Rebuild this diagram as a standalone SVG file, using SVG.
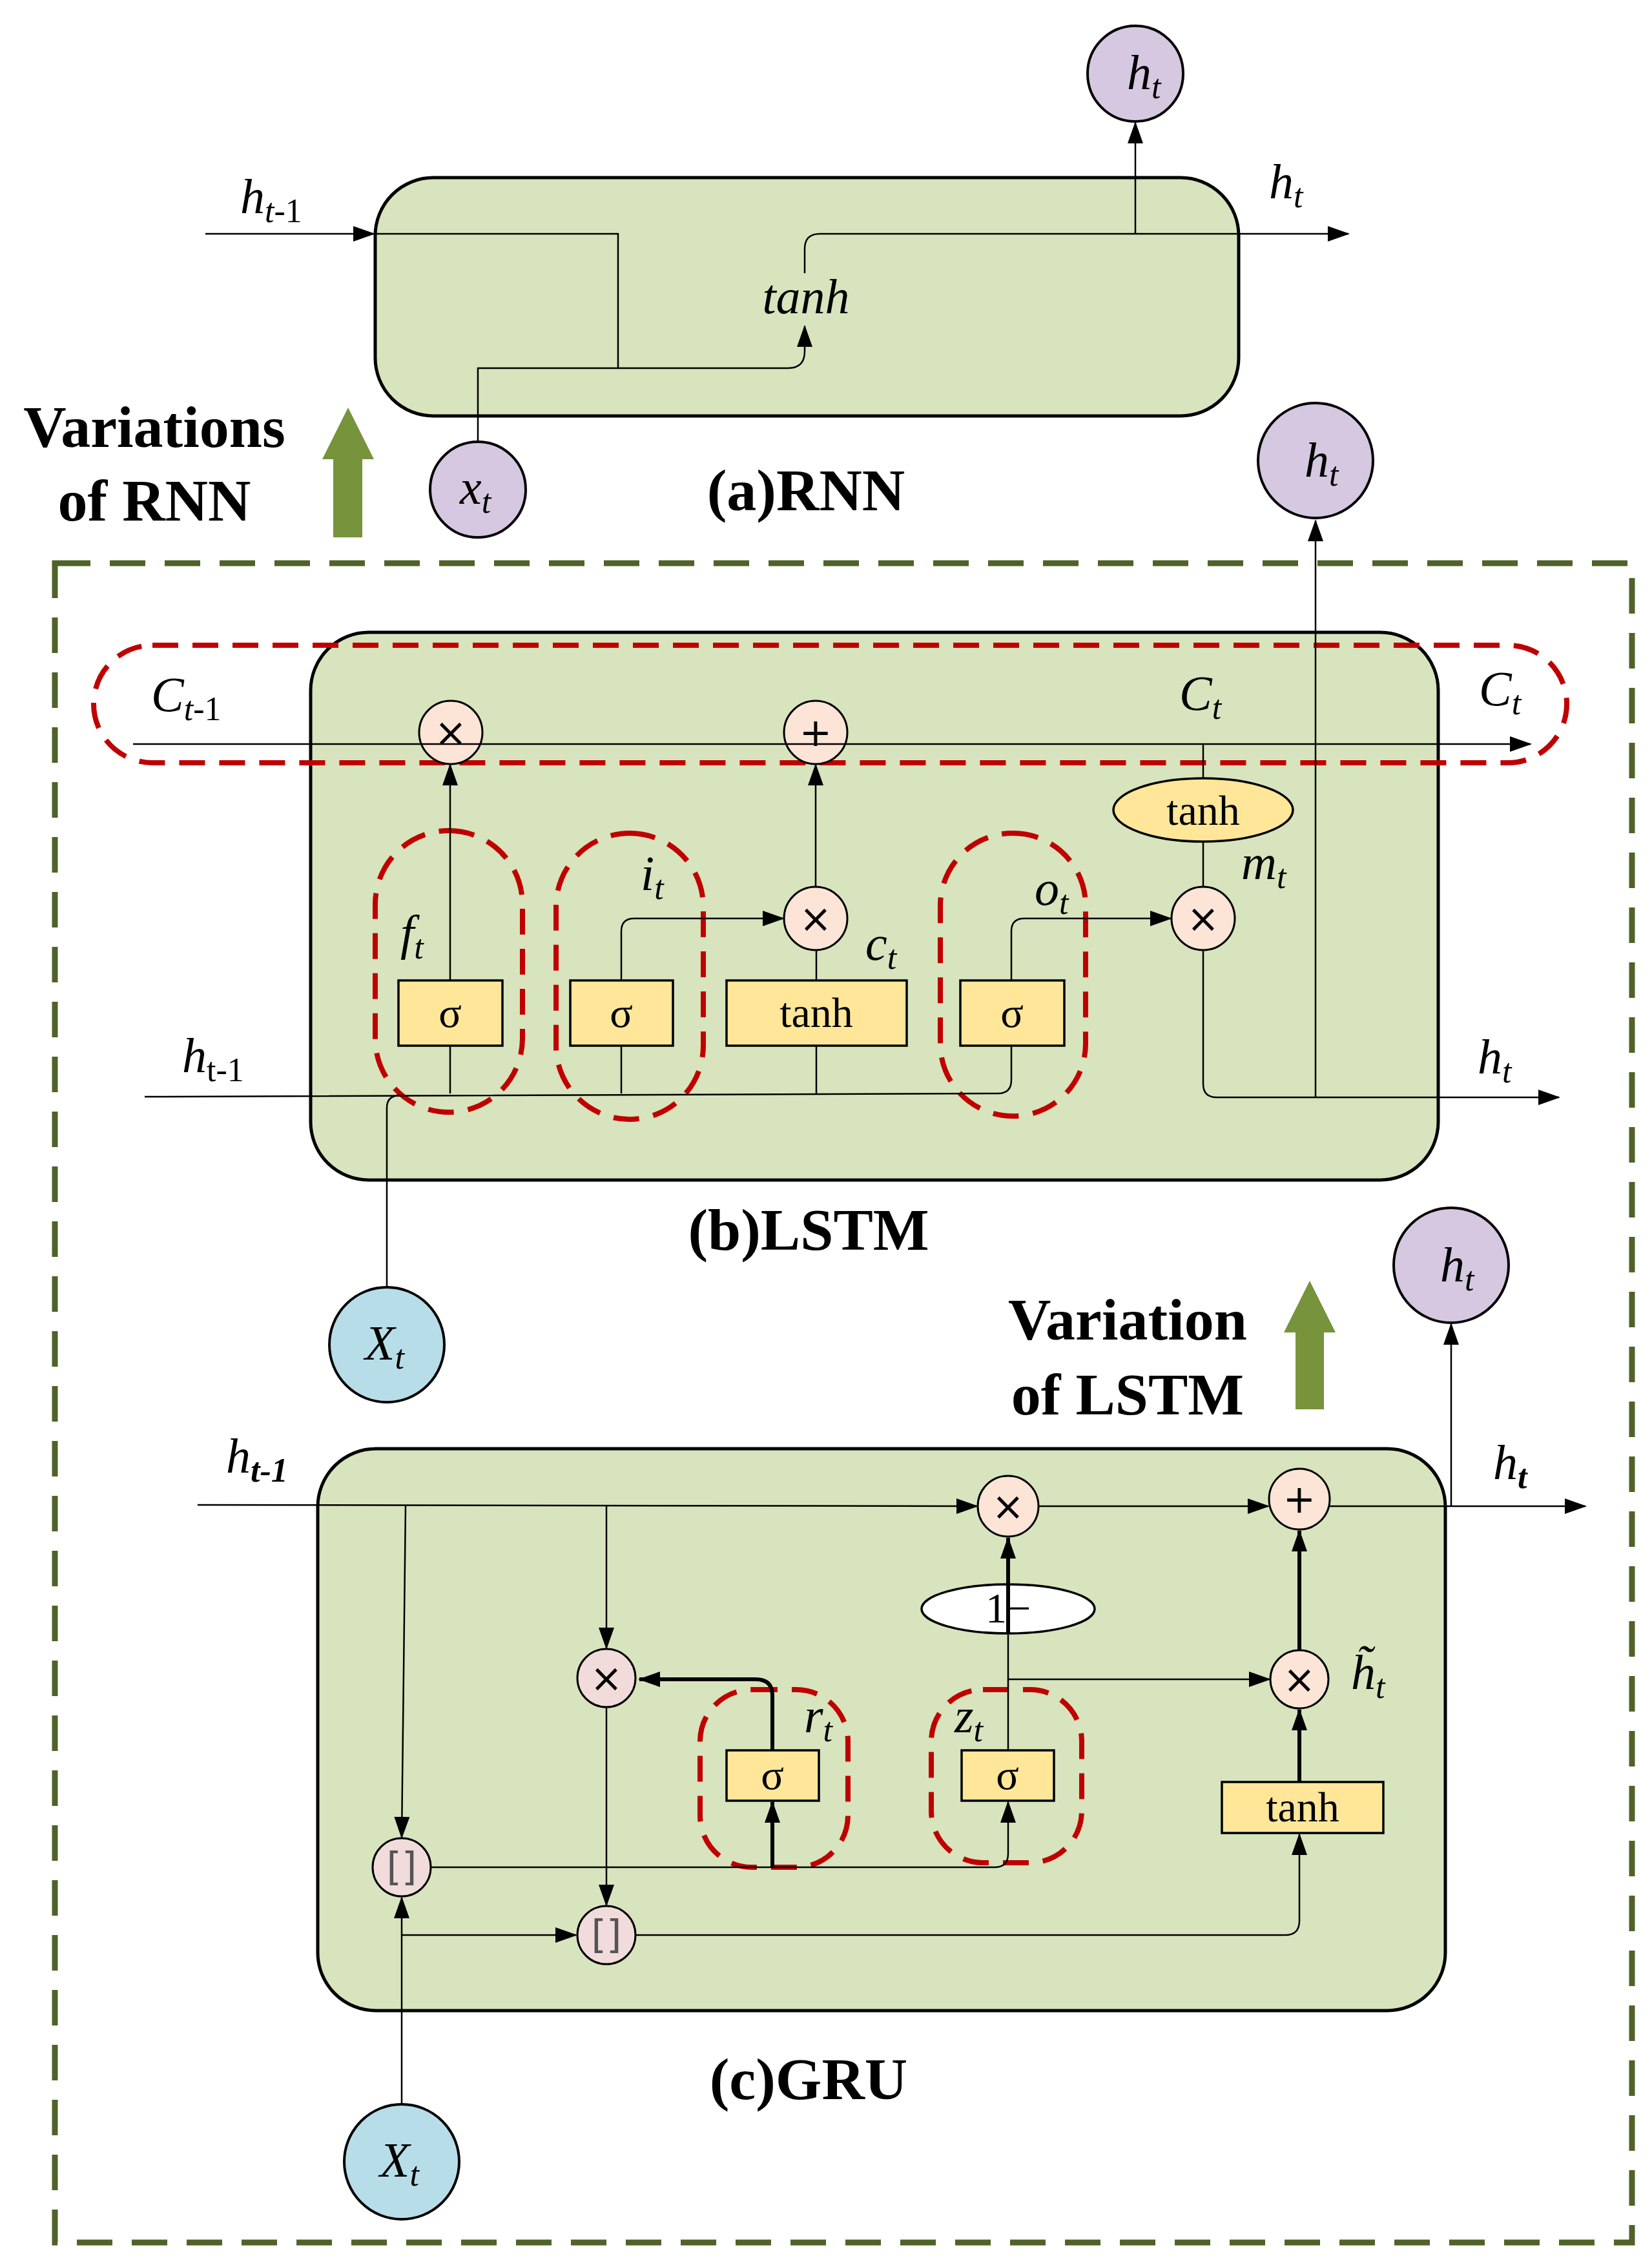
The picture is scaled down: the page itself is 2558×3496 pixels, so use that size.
<svg xmlns="http://www.w3.org/2000/svg" width="2558" height="3496" viewBox="0 0 2558 3496">
<style>
.l{fill:none;stroke:#000;stroke-width:2.5}
.k{fill:none;stroke:#000;stroke-width:6}
.box{fill:#D7E4BD;stroke:#000;stroke-width:5}
.pc{fill:#D5C8E0;stroke:#000;stroke-width:4}
.bc{fill:#B7DDE8;stroke:#000;stroke-width:4}
.op{fill:#FCE4D6;stroke:#000;stroke-width:3}
.pk{fill:#F2DCDB;stroke:#000;stroke-width:3}
.yb{fill:#FFE699;stroke:#000;stroke-width:3.5}
.rd{fill:none;stroke:#C00000;stroke-width:8;stroke-dasharray:40 22}
.gd{fill:none;stroke:#4F6228;stroke-width:9;stroke-dasharray:55 30}
.m{font-family:"Liberation Serif",serif;font-style:italic;font-size:76px}
.s{font-size:52px}
.u{font-family:"Liberation Serif",serif;font-size:66px}
.b{font-family:"Liberation Serif",serif;font-weight:bold;font-size:92px}
.o{font-family:"DejaVu Sans",sans-serif;font-size:60px;text-anchor:middle}
.ga{fill:#77933C}
</style>
<defs>
<marker id="a" markerUnits="userSpaceOnUse" markerWidth="34" markerHeight="24" refX="32" refY="12" orient="auto"><path d="M0,0 L34,12 L0,24 Z"/></marker>
</defs>

<g id="rnn">
<rect class="box" x="581" y="275" width="1337" height="369" rx="90"/>
<text class="m" x="1248" y="485" text-anchor="middle">tanh</text>
</g>
<g id="rnn-ht"><circle class="pc" cx="1758" cy="114" r="74"/><text class="m" x="1745" y="138">h<tspan class="s" dy="14">t</tspan></text></g>
<g id="rnn-xt"><circle class="bc" cx="740" cy="758" r="74" style="fill:#D5C8E0"/><text class="m" x="712" y="780">x<tspan class="s" dy="14">t</tspan></text></g>
<text class="m" x="372" y="330">h<tspan class="s" dy="14">t</tspan><tspan class="s" style="font-style:normal">-1</tspan></text>
<text class="m" x="1965" y="307">h<tspan class="s" dy="14">t</tspan></text>
<text class="b" x="1248" y="790" text-anchor="middle">(a)RNN</text>
<text class="b" x="239" y="692" text-anchor="middle">Variations</text>
<text class="b" x="239" y="806" text-anchor="middle">of RNN</text>
<path class="ga" d="M516,711 H499 L539,631 L579,711 H561 V832 H516 Z"/>

<rect class="gd" x="85" y="872" width="2442" height="2600"/>

<g id="lstm">
<rect class="box" x="481" y="979" width="1746" height="848" rx="90"/>
<rect class="rd" x="145" y="999" width="2281" height="182" rx="91"/>
<rect class="rd" x="581" y="1286" width="228" height="436" rx="114"/>
<rect class="rd" x="861" y="1290" width="228" height="443" rx="114"/>
<rect class="rd" x="1456" y="1290" width="225" height="438" rx="112"/>
<rect class="yb" x="617" y="1518" width="161" height="101"/><text class="u" x="697" y="1590" text-anchor="middle">σ</text>
<rect class="yb" x="883" y="1518" width="159" height="101"/><text class="u" x="962" y="1590" text-anchor="middle">σ</text>
<rect class="yb" x="1125" y="1518" width="279" height="101"/><text class="u" x="1264" y="1590" text-anchor="middle">tanh</text>
<rect class="yb" x="1487" y="1518" width="161" height="101"/><text class="u" x="1567" y="1590" text-anchor="middle">σ</text>
<ellipse class="yb" cx="1863" cy="1254" rx="139" ry="49"/><text class="u" x="1863" y="1277" text-anchor="middle">tanh</text>
</g>
<g id="lstm-ops">
<circle class="op" cx="698" cy="1134" r="49"/><text class="o" x="698" y="1155">×</text>
<circle class="op" cx="1263" cy="1134" r="49"/><text class="o" x="1263" y="1155">+</text>
<circle class="op" cx="1263" cy="1422" r="49"/><text class="o" x="1263" y="1443">×</text>
<circle class="op" cx="1863" cy="1422" r="49"/><text class="o" x="1863" y="1443">×</text>
</g>
<g id="lstm-labels">
<text class="m" x="234" y="1101">C<tspan class="s" dy="14">t</tspan><tspan class="s" style="font-style:normal">-1</tspan></text>
<text class="m" x="1826" y="1099">C<tspan class="s" dy="14">t</tspan></text>
<text class="m" x="2290" y="1092">C<tspan class="s" dy="14">t</tspan></text>
<text class="m" x="1922" y="1361">m<tspan class="s" dy="14">t</tspan></text>
<text class="m" x="620" y="1470">f<tspan class="s" dy="14">t</tspan></text>
<text class="m" x="992" y="1378">i<tspan class="s" dy="14">t</tspan></text>
<text class="m" x="1340" y="1486">c<tspan class="s" dy="14">t</tspan></text>
<text class="m" x="1602" y="1401">o<tspan class="s" dy="14">t</tspan></text>
<text class="m" x="282" y="1660">h<tspan class="s" dy="14" style="font-style:normal">t-1</tspan></text>
<text class="m" x="2288" y="1662">h<tspan class="s" dy="14">t</tspan></text>
<text class="b" x="1252" y="1935" text-anchor="middle">(b)LSTM</text>
</g>
<g id="lstm-ht"><circle class="pc" cx="2037" cy="713" r="89"/><text class="m" x="2020" y="738">h<tspan class="s" dy="14">t</tspan></text></g>
<g id="lstm-xt"><circle class="bc" cx="599" cy="2082" r="89"/><text class="m" x="565" y="2105">X<tspan class="s" dy="14">t</tspan></text></g>

<text class="b" x="1746" y="2074" text-anchor="middle">Variation</text>
<text class="b" x="1746" y="2190" text-anchor="middle">of LSTM</text>
<path class="ga" d="M2006,2063 H1988 L2028,1983 L2068,2063 H2050 V2182 H2006 Z"/>

<g id="gru">
<rect class="box" x="492" y="2243" width="1746" height="870" rx="90"/>
<rect class="rd" x="1084" y="2616" width="229" height="275" rx="80"/>
<rect class="rd" x="1442" y="2616" width="233" height="268" rx="80"/>
<rect class="yb" x="1125" y="2710" width="143" height="78"/><text class="u" x="1196" y="2770" text-anchor="middle">σ</text>
<rect class="yb" x="1489" y="2710" width="143" height="78"/><text class="u" x="1560" y="2770" text-anchor="middle">σ</text>
<rect class="yb" x="1892" y="2759" width="250" height="79"/><text class="u" x="2017" y="2820" text-anchor="middle">tanh</text>
<ellipse cx="1561" cy="2491" rx="134" ry="38" fill="#fff" stroke="#000" stroke-width="3.5"/><text class="u" x="1561" y="2512" text-anchor="middle">1−</text>
</g>
<g id="gru-ops">
<circle class="op" cx="1561" cy="2332" r="47"/><text class="o" x="1561" y="2353">×</text>
<circle class="op" cx="2012" cy="2321" r="47"/><text class="o" x="2012" y="2342">+</text>
<circle class="op" cx="2012" cy="2600" r="45"/><text class="o" x="2012" y="2621">×</text>
<circle class="pk" cx="939" cy="2598" r="45"/><text class="o" x="939" y="2619">×</text>
<circle class="pk" cx="622" cy="2891" r="45"/><text class="o" x="622" y="2911" fill="#555">[]</text>
<circle class="pk" cx="939" cy="2996" r="45"/><text class="o" x="939" y="3016" fill="#555">[]</text>
</g>
<g id="gru-labels">
<text class="m" x="350" y="2280">h<tspan class="s" dy="14" style="font-weight:bold">t-1</tspan></text>
<text class="m" x="2312" y="2290">h<tspan class="s" dy="14" style="font-weight:bold">t</tspan></text>
<text class="m" x="1245" y="2682">r<tspan class="s" dy="14">t</tspan></text>
<text class="m" x="1478" y="2682">z<tspan class="s" dy="14">t</tspan></text>
<text class="m" x="2092" y="2615">h̃<tspan class="s" dy="14">t</tspan></text>
<text class="b" x="1252" y="3250" text-anchor="middle">(c)GRU</text>
</g>
<g id="gru-ht"><circle class="pc" cx="2247" cy="1959" r="89"/><text class="m" x="2230" y="1984">h<tspan class="s" dy="14">t</tspan></text></g>
<g id="gru-xt"><circle class="bc" cx="622" cy="3347" r="89"/><text class="m" x="588" y="3370">X<tspan class="s" dy="14">t</tspan></text></g>

<g id="connectors">
<!-- RNN -->
<path class="l" d="M318,362 H579" marker-end="url(#a)"/>
<path class="l" d="M581,362 H957 V570"/>
<path class="l" d="M740,684 V570 H1220 Q1246,570 1246,544 V505" marker-end="url(#a)"/>
<path class="l" d="M1246,423 V385 Q1246,362 1270,362 H2088" marker-end="url(#a)"/>
<path class="l" d="M1758,362 V190" marker-end="url(#a)"/>
<!-- LSTM -->
<path class="l" d="M206,1152 H2370" marker-end="url(#a)"/>
<path class="l" d="M1863,1152 V1205"/>
<path class="l" d="M1863,1303 V1373"/>
<path class="l" d="M224,1698 L1545,1693 Q1566,1693 1566,1672 V1619"/>
<path class="l" d="M697,1619 V1693 M962,1619 V1693 M1264,1619 V1693"/>
<path class="l" d="M599,1993 V1715 Q599,1696 620,1696"/>
<path class="l" d="M697,1518 V1184" marker-end="url(#a)"/>
<path class="l" d="M962,1518 V1442 Q962,1422 982,1422 H1213" marker-end="url(#a)"/>
<path class="l" d="M1264,1518 V1471"/>
<path class="l" d="M1263,1373 V1184" marker-end="url(#a)"/>
<path class="l" d="M1566,1518 V1442 Q1566,1422 1586,1422 H1813" marker-end="url(#a)"/>
<path class="l" d="M1863,1471 V1678 Q1863,1699 1884,1699 H2414" marker-end="url(#a)"/>
<path class="l" d="M2037,1699 V806" marker-end="url(#a)"/>
<!-- GRU -->
<path class="l" d="M306,2330 L1513,2332" marker-end="url(#a)"/>
<path class="l" d="M1608,2332 H1964" marker-end="url(#a)"/>
<path class="l" d="M2059,2332 H2455" marker-end="url(#a)"/>
<path class="l" d="M2247,2332 V2050" marker-end="url(#a)"/>
<path class="l" d="M628,2331 L622,2845" marker-end="url(#a)"/>
<path class="l" d="M939,2331 V2552" marker-end="url(#a)"/>
<path class="l" d="M939,2643 V2950" marker-end="url(#a)"/>
<path class="k" d="M1196,2710 V2625 Q1196,2600 1170,2600 H990" marker-end="url(#a)"/>
<path class="k" d="M1196,2891 V2790" marker-end="url(#a)"/>
<path class="k" d="M1561,2529 V2381" marker-end="url(#a)"/>
<path class="l" d="M1561,2710 V2531"/>
<path class="l" d="M1561,2600 H1966" marker-end="url(#a)"/>
<path class="k" d="M2012,2759 V2647" marker-end="url(#a)"/>
<path class="k" d="M2012,2555 V2370" marker-end="url(#a)"/>
<path class="l" d="M667,2891 H1540 Q1561,2891 1561,2870 V2790" marker-end="url(#a)"/>
<path class="l" d="M622,3258 V2938" marker-end="url(#a)"/>
<path class="l" d="M622,2996 H892" marker-end="url(#a)"/>
<path class="l" d="M984,2996 H1990 Q2012,2996 2012,2974 V2840" marker-end="url(#a)"/>
</g>
</svg>
